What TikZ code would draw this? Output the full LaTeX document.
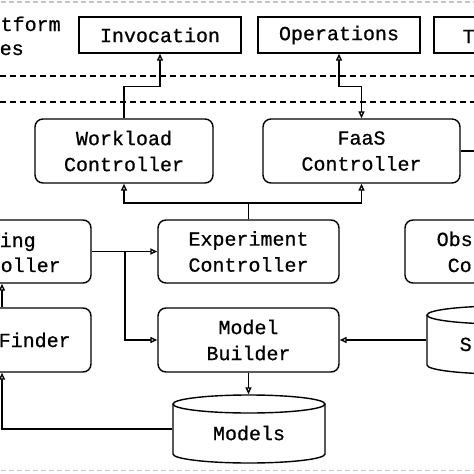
\documentclass[tikz,border=0pt]{standalone}
\usepackage{fontspec}
\setmonofont{Liberation Mono}[FakeBold=0.7]
\usetikzlibrary{arrows.meta}
\begin{document}
\begin{tikzpicture}[x=1pt,y=-1pt,
  font=\ttfamily\fontsize{20}{26}\selectfont,
  line width=1.4pt,
  rbox/.style={draw, rounded corners=8pt, align=center, inner sep=0pt},
  sbox/.style={draw, align=center, inner sep=0pt, minimum height=36pt},
  frag/.style={anchor=base west, inner sep=0pt},
  hold/.style={inner sep=0pt, minimum width=152pt, minimum height=68pt},
  conn/.style={-{Triangle[open,length=7pt,width=6pt,fill=white]}},
  biconn/.style={{Triangle[open,length=7pt,width=6pt,fill=white]}-{Triangle[open,length=7pt,width=6pt,fill=white]}},
  sep/.style={dash pattern=on 6pt off 4pt, line width=1.3pt},
  gdash/.style={fill=black!22}]
\useasboundingbox (0,0) rectangle (474,474);
\clip (0,0) rectangle (474,474);

% separators
\foreach \i in {0,...,59}{
  \fill[gdash] (\i*8+1,1) rectangle ++(5,1.5);
  \fill[gdash] (\i*8+1,469.5) rectangle ++(5,1.5);
}
\draw[sep] (0,76) -- (474,76);
\draw[sep] (0,102) -- (474,102);

% platform services
\node[frag] (pf1) at (0,31) {tform};
\node[frag] (pf2) at (-1,55) {es};
\node[sbox, minimum width=162pt] (inv) at (160,35) {Invocation};
\node[sbox, minimum width=162pt] (ops) at (339,35) {Operations};
\node[sbox, minimum width=166pt] (tbox) at (517,35) {};
\node[frag] (tt) at (462,43) {T};

% controllers
\node[rbox, minimum width=178pt, minimum height=64pt] (wl) at (124,151) {Workload\\Controller};
\node[rbox, minimum width=197pt, minimum height=64pt] (faas) at (361.5,151) {FaaS\\Controller};
\node[rbox, minimum width=181pt, minimum height=63pt] (exp) at (248.5,251.5) {Experiment\\Controller};
\node[rbox, minimum width=191pt, minimum height=63pt] (scal) at (-4.5,251.5) {};
\node[frag] (sc1) at (-1,247) {ing};
\node[frag] (sc2) at (0,272) {oller};
\node[rbox, minimum width=195pt, minimum height=63pt] (obs) at (502.5,251.5) {};
\node[frag] (ob1) at (436,246) {Obs};
\node[frag] (ob2) at (447,272) {Co};
\node[rbox, minimum width=181pt, minimum height=64pt] (mb) at (248.5,340) {Model\\Builder};
\node[rbox, minimum width=191pt, minimum height=64pt] (fin) at (-4.5,340) {};
\node[frag] (fn) at (-2,347) {Finder};

% cylinders
\node[hold] (models) at (249,429) {};
\draw[fill=white] (173,404) -- (173,454) arc[start angle=180, end angle=360, x radius=76pt, y radius=9pt] -- (325,404);
\draw (249,404) ellipse [x radius=76pt, y radius=9pt];
\node[inner sep=0pt] (mtxt) at (249,433) {Models};

\node[hold] (st) at (503,340) {};
\draw[fill=white] (427,315) -- (427,365) arc[start angle=180, end angle=360, x radius=76pt, y radius=9pt] -- (579,315);
\draw (503,315) ellipse [x radius=76pt, y radius=9pt];
\node[frag] (stxt) at (459,351) {S};

% connectors
\coordinate (fx) at (2,0);
\coordinate (rx) at (480,0);
\coordinate (j) at (249,203);
\coordinate (b) at (125,251.5);

\draw[conn] (wl.north) -- ++(0,-32) -| (inv.south);
\draw[biconn] (faas.north) -- ++(0,-32) -| (ops.south);
\draw (faas.east) -- (faas.east -| rx);
\draw (exp.north) -- (exp.north |- j);
\draw[conn] (exp.north |- j) -| (wl.south);
\draw[conn] (exp.north |- j) -| (faas.south);
\draw[conn] (scal.east) -- (exp.west);
\draw[conn] (b) |- (mb.west);
\draw[conn] (st.west) -- (mb.east);
\draw[conn] (mb.south) -- (mb.south |- models.north);
\draw[conn] (fin.north -| fx) -- (scal.south -| fx);
\draw[conn] (models.west) -| (fin.south -| fx);
\end{tikzpicture}
\end{document}
